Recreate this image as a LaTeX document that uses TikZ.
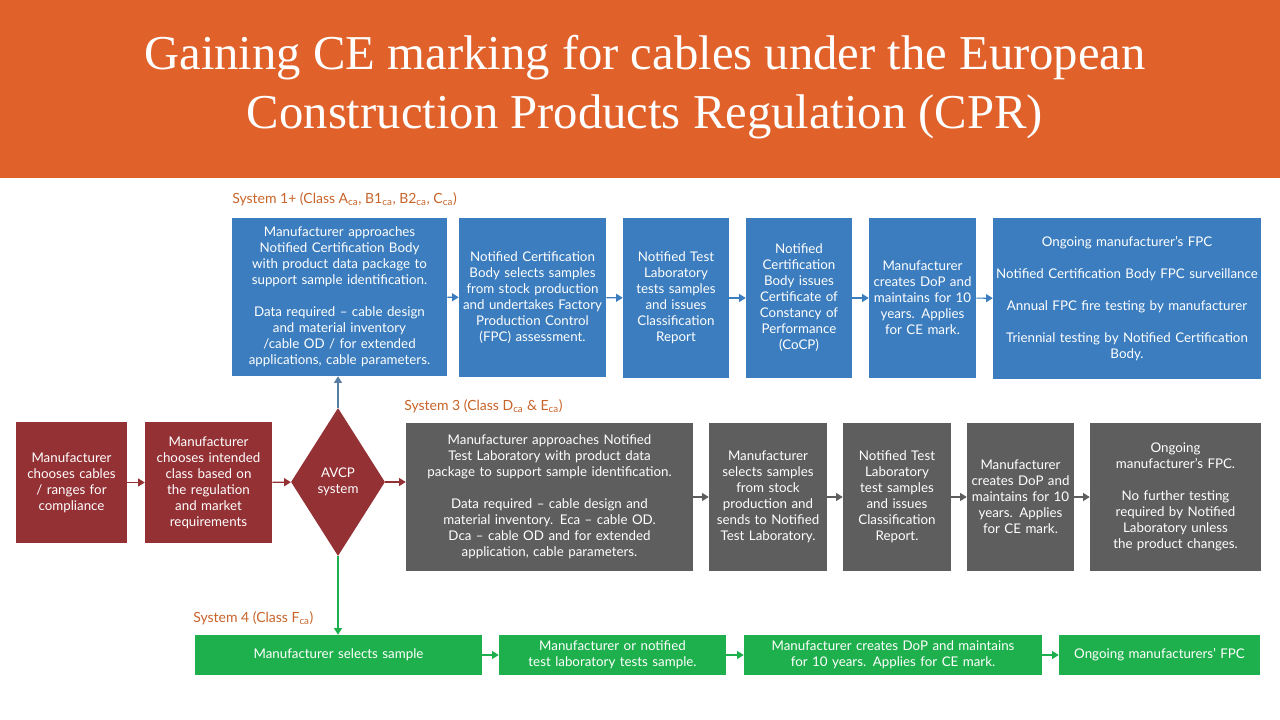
\documentclass[tikz,border=0pt]{standalone}
\usepackage{fontspec}
\setmainfont{Lato}
\newfontfamily\titlefont{Liberation Serif}
\usetikzlibrary{shapes.geometric,arrows.meta}
\hyphenpenalty=10000
\exhyphenpenalty=10000
\definecolor{ttl}{HTML}{E0622A}
\definecolor{cblue}{HTML}{3B7DBE}
\definecolor{cgrey}{HTML}{5E5E5E}
\definecolor{cred}{HTML}{943135}
\definecolor{cgreen}{HTML}{1EB04C}
\definecolor{lbl}{HTML}{C8642A}
\tikzset{
 bx/.style={fill=#1, text=white, align=center, inner sep=0pt, font=\fontsize{10}{12}\selectfont},
 ar/.style={-{Triangle[length=5pt,width=6pt]}, line width=0.9pt, draw=#1},
 sl/.style={anchor=west, text=lbl, font=\fontsize{10.5}{12}\selectfont, inner sep=0pt}
}
\newcommand{\bxat}[6]{\node[bx=#6, minimum width=(#3-#1)*0.75pt, minimum height=(#4-#2)*0.75pt, text width=(#3-#1)*0.75pt-5pt] (#5) at ({(#1+#3)/2},{(#2+#4)/2})}
\begin{document}
\begin{tikzpicture}[x=0.75pt,y=-0.75pt]
\useasboundingbox (0,0) rectangle (1280,720);
\fill[white] (0,0) rectangle (1280,720);
\fill[ttl] (0,0) rectangle (1280,178);
\node[text=white, align=center, font=\titlefont\fontsize{36.5}{44}\selectfont] (title) at (645,87) {Gaining CE marking for cables under the European\\Construction Products Regulation (CPR)};
% labels
\node[sl] (l1) at (232,199) {System 1+ (Class A\textsubscript{ca}, B1\textsubscript{ca}, B2\textsubscript{ca}, C\textsubscript{ca})};
\node[sl] (l3) at (404,406) {System 3 (Class D\textsubscript{ca} \& E\textsubscript{ca})};
\node[sl] (l4) at (193,618) {System 4 (Class F\textsubscript{ca})};
% blue row
\bxat{232}{218}{447}{376}{b1}{cblue}{Manufacturer approaches Notified Certification Body with product data package to support sample identification.\\[12pt]Data required -- cable design and material inventory /cable OD / for extended applications, cable parameters.};
\bxat{459}{218}{606}{377}{b2}{cblue}{Notified Certification Body selects samples from stock production and undertakes Factory Production Control (FPC) assessment.};
\bxat{623}{218}{729}{378}{b3}{cblue}{Notified Test Laboratory tests samples and issues Classification Report};
\bxat{746}{218}{852}{378}{b4}{cblue}{Notified Certification Body issues Certificate of Constancy of Performance (CoCP)};
\bxat{869}{218}{976}{378}{b5}{cblue}{Manufacturer creates DoP and maintains for 10 years. Applies for CE mark.};
\node[bx=cblue, minimum width=268*0.75pt, minimum height=161*0.75pt, text width=268*0.75pt-3pt] (b6) at (1127,298.5) {Ongoing manufacturer's FPC\\[12pt]Notified Certification Body FPC surveillance\\[12pt]Annual FPC fire testing by manufacturer\\[12pt]Triennial testing by Notified Certification\\Body.};
% grey row
\bxat{406}{423}{693}{571}{g1}{cgrey}{Manufacturer approaches Notified Test Laboratory with product data package to support sample identification.\\[12pt]Data required -- cable design and material inventory. Eca -- cable OD. Dca -- cable OD and for extended application, cable parameters.};
\bxat{709}{423}{827}{571}{g2}{cgrey}{Manufacturer selects samples from stock production and sends to Notified Test Laboratory.};
\bxat{843}{423}{951}{571}{g3}{cgrey}{Notified Test Laboratory test samples and issues Classification Report.};
\bxat{967}{423}{1074}{571}{g4}{cgrey}{Manufacturer creates DoP and maintains for 10 years. Applies for CE mark.};
\bxat{1090}{423}{1261}{571}{g5}{cgrey}{Ongoing manufacturer's FPC.\\[12pt]No further testing required by Notified Laboratory unless the product changes.};
% red row
\bxat{16}{422}{127}{543}{r1}{cred}{Manufacturer chooses cables / ranges for compliance};
\bxat{145}{422}{272}{543}{r2}{cred}{Manufacturer chooses intended class based on the regulation and market requirements};
\node[diamond, fill=cred, text=white, inner sep=0pt, minimum width=94*0.75pt, minimum height=148*0.75pt, aspect=0.63, align=center, font=\fontsize{10}{12}\selectfont] (d) at (338,482) {AVCP\\system};
% green row
\bxat{195}{635}{482}{675}{e1}{cgreen}{Manufacturer selects sample};
\bxat{499}{635}{726}{675}{e2}{cgreen}{Manufacturer or notified test laboratory tests sample.};
\bxat{744}{635}{1042}{675}{e3}{cgreen}{Manufacturer creates DoP and maintains for 10 years. Applies for CE mark.};
\bxat{1059}{635}{1260}{675}{e4}{cgreen}{Ongoing manufacturers' FPC};
% arrows
\draw[ar=cblue] (b1) -- (b2);
\draw[ar=cblue] (b2) -- (b3);
\draw[ar=cblue] (b3) -- (b4);
\draw[ar=cblue] (b4) -- (b5);
\draw[ar=cblue] (b5) -- (b6);
\draw[ar=cgrey] (g1) -- (g2);
\draw[ar=cgrey] (g2) -- (g3);
\draw[ar=cgrey] (g3) -- (g4);
\draw[ar=cgrey] (g4) -- (g5);
\draw[ar=cred] (r1) -- (r2);
\draw[ar=cred] (r2) -- (d);
\draw[ar=cred] (d) -- (d.east -| g1.west);
\draw[ar={cblue!60!gray}] (d.north) -- (d.north |- b1.south);
\draw[ar=cgreen] (d.south) -- (d.south |- e1.north);
\draw[ar=cgreen] (e1) -- (e2);
\draw[ar=cgreen] (e2) -- (e3);
\draw[ar=cgreen] (e3) -- (e4);
\end{tikzpicture}
\end{document}
